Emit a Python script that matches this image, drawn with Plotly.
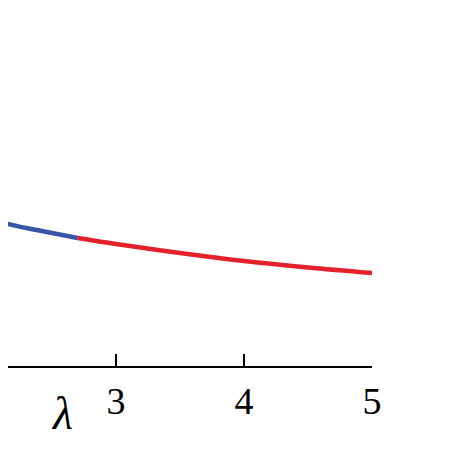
import plotly.graph_objects as go

# lambda values and curve heights (arbitrary units)
lam_blue = [2.09, 2.3, 2.5, 2.7]
val_blue = [144, 138, 133, 128]
lam_red = [2.7, 3.0, 3.5, 4.0, 4.5, 5.0]
val_red = [128, 122, 113, 105, 98.5, 93]
tick_vals = [3, 4, 5]
tick_text = ["3", "4", "5"]

x_lo = 2.156

fig = go.Figure()
fig.add_trace(go.Scatter(x=lam_blue, y=val_blue, mode="lines", line=dict(color="#3a55a4", width=4.5, shape="spline")))
fig.add_trace(go.Scatter(x=lam_red, y=val_red, mode="lines", line=dict(color="#e3212a", width=4.5, shape="spline")))

fig.add_annotation(text="<i>λ</i>", xref="paper", yref="paper", x=(2.48 - x_lo) / (5 - x_lo), y=-0.21,
                   showarrow=False, font=dict(family="Liberation Serif", size=46, color="black"))

fig.update_layout(
    width=474, height=474, showlegend=False,
    margin=dict(l=0, r=110, t=0, b=116),
    plot_bgcolor="white", paper_bgcolor="white",
    xaxis=dict(range=[x_lo, 5], showgrid=False, zeroline=False, showline=True, linecolor="black", linewidth=2,
               ticks="inside", ticklen=12, tickwidth=2, tickcolor="black",
               tickvals=tick_vals, ticktext=tick_text,
               tickfont=dict(family="Liberation Serif", size=38, color="black")),
    yaxis=dict(range=[0, 358], visible=False),
)
fig.write_html("out.html")
